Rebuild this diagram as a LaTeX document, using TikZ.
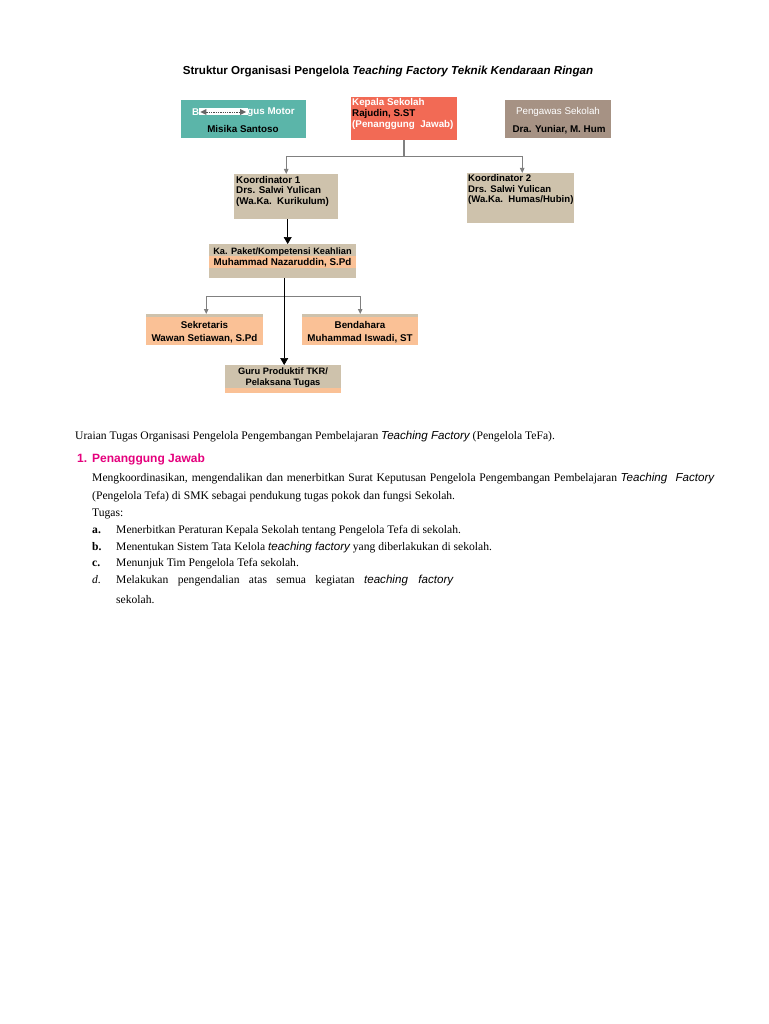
\documentclass[tikz,border=0pt]{standalone}
\usepackage{fontspec}
\setmainfont{Liberation Serif}
\setsansfont{Liberation Sans}
\usetikzlibrary{arrows.meta,calc}
\definecolor{teal1}{HTML}{5BB5A9}
\definecolor{salmon1}{HTML}{F26A55}
\definecolor{pengawas}{HTML}{A69284}
\definecolor{tan1}{HTML}{CEC2AC}
\definecolor{orange1}{HTML}{FAC196}
\definecolor{line1}{HTML}{808080}
\definecolor{magenta1}{HTML}{E5007D}
\tikzset{
  box/.style={draw=none, inner sep=0pt, anchor=north west},
  ct/.style={inner sep=0pt, font=\fontsize{9.8}{11}\sffamily\bfseries},
  body/.style={inner sep=0pt, anchor=base west, font=\fontsize{11.6}{14}\rmfamily},
  gconn/.style={line1, line width=1.6pt},
  garrow/.style={line1, line width=1pt, -{Triangle[length=5pt,width=4.5pt]}},
  barrow/.style={black, line width=0.6pt, -{Triangle[length=7pt,width=8pt]}},
}
\newcommand{\tf}[1]{{\sffamily\itshape #1}}
\begin{document}
\begin{tikzpicture}[x=1pt,y=-1pt]
\useasboundingbox (0,0) rectangle (768,1024);
\fill[white] (0,0) rectangle (768,1024);

% title
\node[inner sep=0pt, font=\fontsize{11.6}{13}\sffamily\bfseries] (title) at (388,72)
  {Struktur Organisasi Pengelola \textit{Teaching Factory Teknik Kendaraan Ringan}};

% top row boxes
\node[box, fill=teal1, minimum width=125pt, minimum height=38pt] (bengkel) at (181,100) {};
\node[box, fill=salmon1, minimum width=106pt, minimum height=43pt] (kepala) at (351,97) {};
\node[box, fill=pengawas, minimum width=106pt, minimum height=38pt] (pengawas) at (505,100) {};

\node[ct, white, anchor=west] (bengkelA) at (192,112) {B};
\node[ct, white, anchor=east] (bengkelB) at (295,112) {gus Motor};
\fill[white] (199,108.5) rectangle (248,115.5);
\draw[black!70, line width=0.9pt, dash pattern=on 1.3pt off 1pt]
  ([xshift=7pt]bengkelA.east) -- ([xshift=-7pt]bengkelB.west);
\fill[black!60]
  ([xshift=1pt]bengkelA.east) -- ++(6,-3) -- ++(0,6) -- cycle;
\fill[black!60]
  ([xshift=-1pt]bengkelB.west) -- ++(-6,-3) -- ++(0,6) -- cycle;
\node[ct, black] (bengkelN) at (243,129) {Misika Santoso};

\node[ct, white, anchor=base west] (kep1) at (352,105.5) {Kepala Sekolah};
\node[ct, black, anchor=base west] (kep2) at (352,116.5) {Rajudin, S.ST};
\node[ct, white, anchor=base west] (kep3) at (352,127.5) {(Penanggung\ \ Jawab)};

\node[ct, white, font=\fontsize{9.8}{11}\sffamily] (pen1) at (558,112) {Pengawas Sekolah};
\node[ct, black] (pen2) at (559,130) {Dra. Yuniar, M. Hum};

% koordinator
\node[box, fill=tan1, minimum width=104pt, minimum height=45pt] (k1) at (234,174) {};
\node[ct, anchor=base west] (k1a) at (236,183.5) {Koordinator 1};
\node[ct, anchor=base west] (k1b) at (236,194) {Drs. Salwi Yulican};
\node[ct, anchor=base west] (k1c) at (236,204.5) {(Wa.Ka.\ \ Kurikulum)};

\node[box, fill=tan1, minimum width=107pt, minimum height=50pt] (k2) at (467,173) {};
\node[ct, anchor=base west, font=\fontsize{9.6}{11}\sffamily\bfseries] (k2a) at (468,182) {Koordinator 2};
\node[ct, anchor=base west, font=\fontsize{9.6}{11}\sffamily\bfseries] (k2b) at (468,192.5) {Drs. Salwi Yulican};
\node[ct, anchor=base west, font=\fontsize{9.6}{11}\sffamily\bfseries] (k2c) at (468,203) {(Wa.Ka.\ \ Humas/Hubin)};

% ka paket
\node[box, fill=tan1, minimum width=147pt, minimum height=34pt] (kp) at (209,244) {};
\fill[orange1] (209,256) rectangle (356,268);
\node[ct, anchor=base, font=\fontsize{9.2}{11}\sffamily\bfseries] (kpa) at (282.5,254) {Ka. Paket/Kompetensi Keahlian};
\node[ct, anchor=base] (kpb) at (282.5,265.5) {Muhammad Nazaruddin, S.Pd};

% sekretaris, bendahara
\node[box, fill=orange1, minimum width=117pt, minimum height=31pt] (sek) at (146,314) {};
\fill[tan1] (146,314) rectangle (263,317);
\node[ct, anchor=base] (seka) at (204.5,328.5) {Sekretaris};
\node[ct, anchor=base] (sekb) at (204.5,341.5) {Wawan Setiawan, S.Pd};

\node[box, fill=orange1, minimum width=116pt, minimum height=31pt] (ben) at (302,314) {};
\fill[tan1] (302,314) rectangle (418,317);
\node[ct, anchor=base] (bena) at (360,328.5) {Bendahara};
\node[ct, anchor=base] (benb) at (360,341.5) {Muhammad Iswadi, ST};

% guru
\node[box, fill=tan1, minimum width=116pt, minimum height=28pt] (guru) at (225,365) {};
\fill[orange1] (225,388) rectangle (341,393);
\node[ct, anchor=base, font=\fontsize{9.3}{11}\sffamily\bfseries] (gurua) at (283,374.5) {Guru Produktif TKR/};
\node[ct, anchor=base, font=\fontsize{9.3}{11}\sffamily\bfseries] (gurub) at (283,385) {Pelaksana Tugas};

% connectors
\coordinate (j1) at ($(kepala.south)+(0,16)$);
\draw[gconn] (kepala.south) -- (j1);
\draw[garrow] (j1) -| (k1.north);
\draw[garrow] (j1) -| ([xshift=1.5pt]k2.north);
\draw[black!15, line width=1.5pt] ([xshift=1.5pt]k1.south) -- ([xshift=1.5pt]k1.south |- kp.north);
\draw[barrow] ([xshift=1.5pt]k1.south) -- ([xshift=1.5pt]k1.south |- kp.north);
\coordinate (j2) at ($(kp.south)+(1.5,18)$);
\draw[black, line width=0.6pt] ([xshift=1.5pt]kp.south) -- (j2);
\draw[garrow] (j2) -| ([xshift=1.5pt]sek.north);
\draw[garrow] (j2) -| (ben.north);
\draw[barrow] (j2) -- (j2 |- guru.north);

% text section
\node[body] (t1) at (75,439) {Uraian Tugas Organisasi Pengelola Pengembangan Pembelajaran \tf{Teaching Factory} (Pengelola TeFa).};
\node[inner sep=0pt, anchor=base west, text=magenta1, font=\fontsize{12}{14}\sffamily\bfseries] (h1) at (77,462.5) {1.};
\node[inner sep=0pt, anchor=base west, text=magenta1, font=\fontsize{12}{14}\sffamily\bfseries] (h1b) at (92,462.5) {Penanggung Jawab};
\node[body] (p1) at (92,481) {\makebox[622pt][s]{Mengkoordinasikan, mengendalikan dan menerbitkan Surat Keputusan Pengelola Pengembangan Pembelajaran \tf{Teaching\ \ Factory}}};
\node[body] (p2) at (92,499) {(Pengelola Tefa) di SMK sebagai pendukung tugas pokok dan fungsi Sekolah.};
\node[body] (p3) at (92,516) {Tugas:};
\node[body, font=\fontsize{11.6}{14}\rmfamily\bfseries] (la) at (92,533) {a.};
\node[body] (ta) at (116,533) {Menerbitkan Peraturan Kepala Sekolah tentang Pengelola Tefa di sekolah.};
\node[body, font=\fontsize{11.6}{14}\rmfamily\bfseries] (lb) at (92,550) {b.};
\node[body] (tb) at (116,550) {Menentukan Sistem Tata Kelola \tf{teaching factory} yang diberlakukan di sekolah.};
\node[body, font=\fontsize{11.6}{14}\rmfamily\bfseries] (lc) at (92,566) {c.};
\node[body] (tc) at (116,566) {Menunjuk Tim Pengelola Tefa sekolah.};
\node[body, font=\fontsize{11.6}{14}\rmfamily\itshape] (ld) at (92,583) {d.};
\node[body] (td) at (116,583) {\makebox[337pt][s]{Melakukan pengendalian atas semua kegiatan \tf{teaching factory}}};
\node[body] (td2) at (116,603) {sekolah.};
\end{tikzpicture}
\end{document}
